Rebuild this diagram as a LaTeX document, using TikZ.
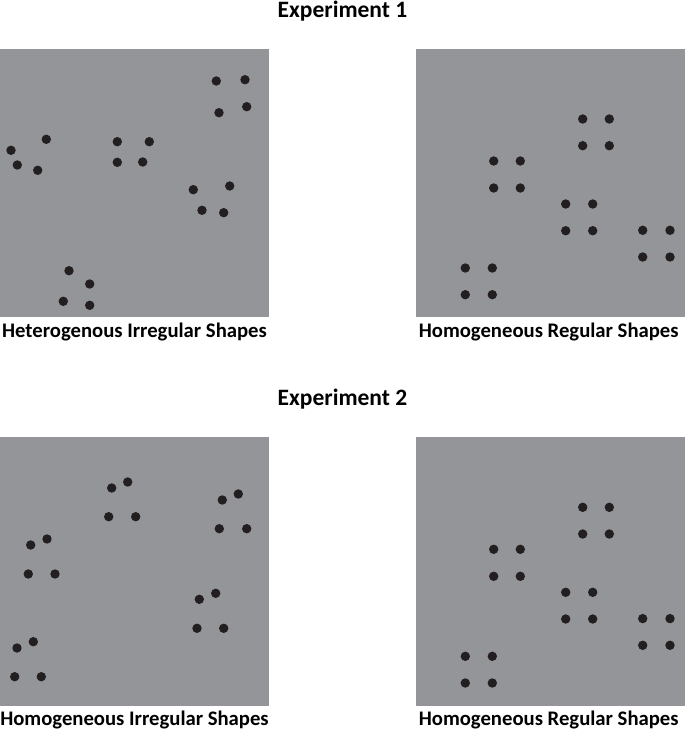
\documentclass[tikz,border=0pt]{standalone}
\usepackage{fontspec}
\setmainfont{Carlito}
\definecolor{panelgray}{RGB}{147,149,152}
\definecolor{dotc}{RGB}{35,31,32}
\begin{document}
\begin{tikzpicture}[x=1pt,y=-1pt,
  panel/.style={fill=panelgray,draw=none},
  dot/.style={fill=dotc,draw=none},
  lab/.style={font=\bfseries\fontsize{20.7}{24}\selectfont,anchor=base,inner sep=0pt},
  ttl/.style={font=\bfseries\fontsize{23.5}{28}\selectfont,anchor=base,inner sep=0pt}]
\useasboundingbox (0,0) rectangle (685,730);
% panels
\fill[panel] (0,49) rectangle (269,317);
\fill[panel] (415.7,49) rectangle (685,317);
\fill[panel] (0,437.3) rectangle (269,706);
\fill[panel] (415.7,437.3) rectangle (685,706);
% titles and labels
\node[ttl] (t1) at (342.5,17.5) {Experiment 1};
\node[ttl] (t2) at (342.5,405) {Experiment 2};
\node[lab] (l1) at (134.5,337.7) {Heterogenous Irregular Shapes};
\node[lab] (l2) at (548.7,337.7) {Homogeneous Regular Shapes};
\node[lab] (l3) at (134.5,725) {Homogeneous Irregular Shapes};
\node[lab] (l4) at (548.7,725) {Homogeneous Regular Shapes};
% experiment 1, left
\foreach \x/\y in {216.3/81,245/79.7,219/112.7,246.7/106.7,
  46.3/139.3,11/150.3,17.3/165,37.7/170.3,
  117.3/141.7,149.3/141.7,117.3/162.3,142.7/162,
  193.3/189.7,229.7/186,202/210.3,223.7/212.7,
  69/270.7,89.7/284,63.3/301.3,89.7/305.3}
  \fill[dot] (\x,\y) circle (4.7);
% regular panels
\foreach \dy in {0,388.3}{
\foreach \x/\y in {582.7/119,609.3/119,582.7/145.7,609.3/145.7,
  493.7/161,520.3/161,493.7/188,520.3/188,
  565.7/204,592.7/204,565.7/230.7,592.7/230.7,
  642.7/230.3,670/230.3,642.7/257,670/257,
  465.3/268,492.3/268,465.3/294.7,492.3/294.7}
  \fill[dot] (\x,\y+\dy) circle (4.7);
}
% experiment 2, left
\foreach \x/\y in {111.7/488,127.7/482,108.7/516.7,135.7/516.7,
  222.3/500,238.3/494,219.3/528.7,246.7/528.7,
  30.7/545,47/539,28.3/574,55/574,
  199.3/599.3,215.7/593.3,197/628.3,223.7/628.3,
  17/648,33.3/641.7,14.7/676.7,41.3/676.7}
  \fill[dot] (\x,\y) circle (4.7);
\end{tikzpicture}
\end{document}
